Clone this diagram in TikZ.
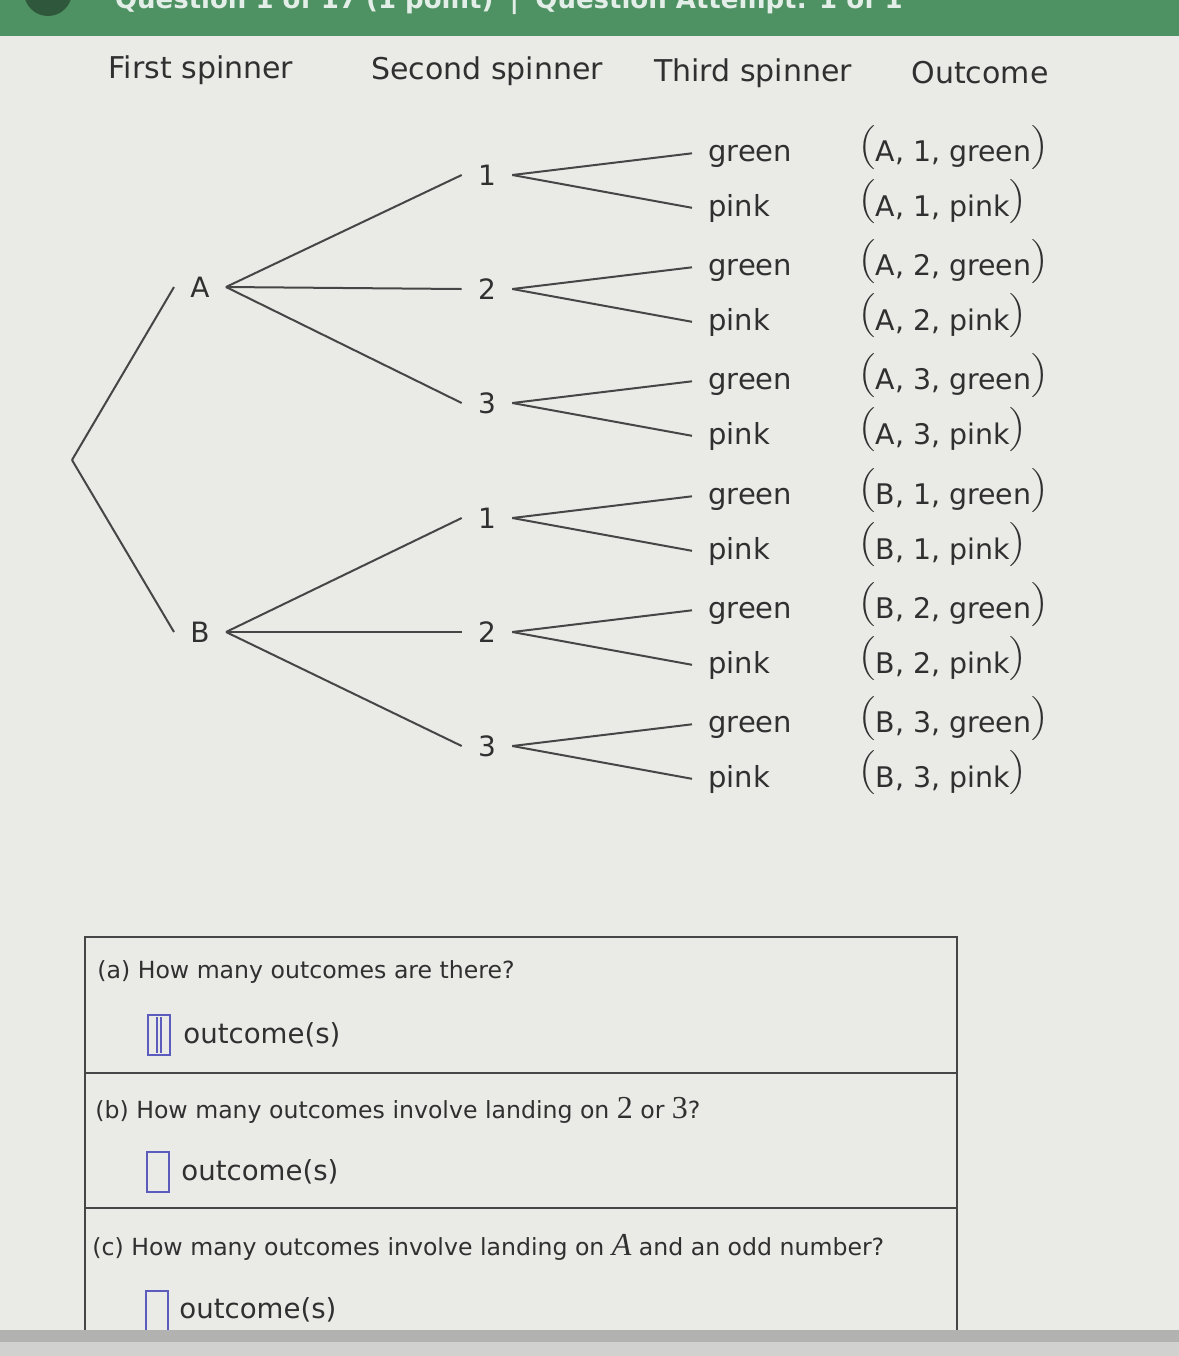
\documentclass[tikz,border=0pt]{standalone}
\usepackage{amsmath}
\usepackage{graphicx}
\usepackage{fontspec}
\setmainfont{DejaVu Sans}
\newfontfamily\numserif{Liberation Serif}
\usepackage{tikz}
\usetikzlibrary{positioning, calc}
\definecolor{screenbg}{RGB}{234,234,231}
\definecolor{barGreen}{RGB}{78,145,98}
\definecolor{inkgray}{RGB}{48,48,48}
\definecolor{linegray}{RGB}{70,70,70}
\definecolor{inputblue}{RGB}{92,92,190}
\definecolor{bezel}{RGB}{178,178,176}
\newcommand{\tparen}[1]{\raisebox{4pt}{\scalebox{1}[0.85]{$#1$}}}
\newcommand{\tup}[1]{\tparen{\Bigl(}#1\tparen{\Bigr)}}

\begin{document}
\begin{tikzpicture}[x=0.5pt, y=-0.5pt,
    every node/.style={text=inkgray},
    head/.style={font=\fontsize{15}{18}\selectfont},
    lvl/.style={font=\fontsize{14}{17}\selectfont, inner xsep=8pt},
    leaf/.style={anchor=base west, font=\fontsize{14.5}{17}\selectfont, inner xsep=8pt,
      text height=1.9ex, text depth=0.4ex},
    outc/.style={anchor=base west, inner sep=0pt, font=\fontsize{14.2}{17}\selectfont},
    branch/.style={linegray, line width=1pt},
    qtext/.style={anchor=west, inner sep=0pt, font=\fontsize{11.8}{14}\selectfont},
    answer/.style={anchor=west, inner sep=0pt, font=\fontsize{13.8}{16}\selectfont},
    inbox/.style={draw=inputblue, line width=1pt, minimum width=11pt, minimum height=20pt, inner sep=0pt}]
  \useasboundingbox (0,0) rectangle (1179,1356);
  \clip (0,0) rectangle (1179,1356);
  \fill[screenbg] (0,0) rectangle (1179,1356);
  % Top bar
  \fill[barGreen] (0,0) rectangle (1179,36);
  \fill[barGreen!60!black] (48,-8) circle (24);
  \node[anchor=west, text=white!85!barGreen, font=\bfseries\fontsize{13}{15}\selectfont] (topbar) at (108,2)
    {Question 1 of 17 (1 point) \;|\; Question Attempt: 1 of 1};
  % Column heads
  \node[head] (hFirst) at (201,70) {First spinner};
  \node[head] (hSecond) at (487,71) {Second spinner};
  \node[head] (hThird) at (753,73) {Third spinner};
  \node[head] (hOutcome) at (980,73) {Outcome};
  % Tree
  \coordinate (root) at (72,460);
  \foreach \L/\ly/\cy in {A/287/289, B/632/632} {
    \node[lvl] (\L) at (200,\ly) {\L};
    \draw[branch] (root) -- (\L.west);
    \foreach \n in {1,2,3} {
      \pgfmathsetmacro\ny{\cy+(\n-2)*114}
      \node[lvl] (\L\n) at (487,\ny) {\n};
      \draw[branch] (\L.east) -- (\L\n.west);
      \node[leaf] (\L\n-g) at (692,\ny-13.5) {green};
      \node[leaf] (\L\n-p) at (692,\ny+41) {pink};
      \draw[branch] (\L\n.east) -- (\L\n-g.west);
      \draw[branch] (\L\n.east) -- (\L\n-p.west);
      \node[outc] (o\L\n-g) at (858,\ny-13.5) {\tup{\L, \n, green}};
      \node[outc] (o\L\n-p) at (858,\ny+41) {\tup{\L, \n, pink}};
    }
  }
  % Question box
  \draw[linegray, line width=1pt] (85,1330) -- (85,937) -- (957,937) -- (957,1330);
  \draw[linegray, line width=1.2pt] (85,1073) -- (957,1073);
  \draw[linegray, line width=1.2pt] (85,1208) -- (957,1208);
  \node[qtext] (qa) at (97,972) {(a) How many outcomes are there?};
  \node[inbox] (boxa) at (159,1035) {};
  \draw[inputblue, line width=0.6pt] ($(boxa.north)+(-2,3)$) -- ($(boxa.south)+(-2,-3)$)
    ($(boxa.north)+(2,3)$) -- ($(boxa.south)+(2,-3)$);
  \node[answer] (ansa) at (183,1035) {outcome(s)};
  \node[qtext] (qb) at (95,1110) {(b) How many outcomes involve landing on {\numserif\fontsize{16}{16}\selectfont 2} or {\numserif\fontsize{16}{16}\selectfont 3}?};
  \node[inbox] (boxb) at (158,1172) {};
  \node[answer] (ansb) at (181,1172) {outcome(s)};
  \node[qtext] (qc) at (92,1247) {(c) How many outcomes involve landing on {\numserif\itshape\fontsize{16}{16}\selectfont A} and an odd number?};
  \node[inbox] (boxc) at (157,1311) {};
  \node[answer] (ansc) at (179,1310) {outcome(s)};
  % Screen edge
  \fill[bezel] (0,1330) rectangle (1179,1342);
  \fill[bezel!60!white] (0,1342) rectangle (1179,1356);
\end{tikzpicture}
\end{document}
